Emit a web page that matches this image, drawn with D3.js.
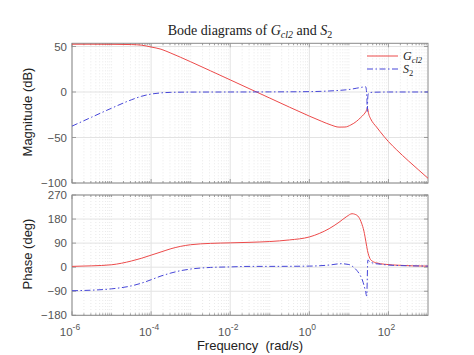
<!DOCTYPE html>
<html><head><meta charset="utf-8">
<script src="https://cdn.jsdelivr.net/npm/d3@7/dist/d3.min.js"></script>
<style>body{margin:0;background:#fff}svg{display:block}</style>
</head><body>
<svg id="c" width="474" height="355"></svg>
<script>
// ---- data (frequencies as log10(rad/s)) ----
const xTickExps = [-6, -4, -2, 0, 2];
const magTicks = [-100, -50, 0, 50];
const phaseTicks = [-180, -90, 0, 90, 180, 270];

const gMagLogF = [-6,-5.5,-5,-4.5,-4.25,-4,-3.75,-3.5,-3,-2.5,-2,-1.5,-1,-0.5,0,0.3,0.55,0.75,0.9,1.05,1.2,1.3,1.38,1.43,1.47,1.5,1.55,1.62,1.7,1.79,2,2.21,2.5,2.75,3];
const gMagDb   = [52.5,52.5,52.4,52.1,51.5,49.4,47,42.7,33.2,23.3,13.3,3.3,-6.7,-16.7,-26.5,-32,-36.3,-38.6,-38.5,-36.2,-32,-28,-24.5,-21.5,-17.9,-24,-29.5,-34.4,-38.5,-43.6,-54.5,-63.7,-75.5,-85.2,-94.8];

const sMagLogF = [-6,-5.5,-5,-4.5,-4.25,-4,-3.75,-3.5,-3,-2,-1,0,0.5,0.8,1.0,1.2,1.35,1.42,1.44,1.455,1.465,1.475,1.49,1.53,1.6,1.8,2,3];
const sMagDb   = [-37.5,-27.6,-17.8,-8.6,-4.8,-2.3,-1,-0.4,-0.1,0,0.1,0.4,1.1,1.9,2.7,4.2,5.4,5.9,3,-8,-21.5,-8,-2,-0.8,-0.3,-0.1,0,0];

const gPhLogF = [-6,-5.5,-5,-4.5,-4.25,-4,-3.75,-3.5,-3.25,-3,-2.5,-2,-1.5,-1,-0.5,0,0.25,0.5,0.75,0.95,1.08,1.15,1.25,1.32,1.38,1.43,1.47,1.53,1.6,1.7,1.9,2.3,2.6,3];
const gPhDeg  = [3,5,9,23,33,45,57,69,78,84,89,91,93,96,102,113,126,144,168,190,200,198,187,165,135,95,62,33,22,16,11,7,5,4];

const sPhLogF = [-6,-5.5,-5,-4.5,-4.25,-4,-3.75,-3.5,-3.25,-3,-2.5,-2,-1.5,-1,0,0.5,0.8,1.0,1.1,1.2,1.28,1.34,1.38,1.42,1.45,1.48,1.53,1.65,1.8,2,2.3,2.6,3];
const sPhDeg  = [-88,-86,-81,-70,-60,-47,-33,-22,-13,-7,-1,1,3,3,4,8,13,10,2,-12,-29,-48,-67,-90,-108,27,20,14,11,8,6,5,4];

// ---- layout ----
const svg = d3.select("#c");
const X0 = 72, X1 = 428;
const x = d3.scaleLog().domain([1e-6, 1e3]).range([X0, X1]);
const yMag = d3.scaleLinear().domain([-100, 53.5]).range([183, 43.3]);
const yPh = d3.scaleLinear().domain([-180, 270]).range([315.3, 195]);

const axisCol = "#8a8a8a", labCol = "#555", gridCol = "#e3e3e3";

function panel(y, yTicks, id) {
  const [yb, yt] = y.range();
  const g = svg.append("g");
  // minor vertical grid
  const minors = [];
  for (let k = -6; k < 3; k++) for (let m = 1; m <= 9; m++) {
    const v = m * Math.pow(10, k);
    if (m === 1 && xTickExps.includes(k)) continue;
    minors.push(v);
  }
  g.selectAll(".mg").data(minors).enter().append("line")
    .attr("x1", d => x(d)).attr("x2", d => x(d)).attr("y1", yt).attr("y2", yb)
    .attr("stroke", "#dadada").attr("stroke-width", 0.6).attr("stroke-dasharray", "1,2");
  // major grid
  g.selectAll(".vg").data(xTickExps.map(e => Math.pow(10, e))).enter().append("line")
    .attr("x1", d => x(d)).attr("x2", d => x(d)).attr("y1", yt).attr("y2", yb)
    .attr("stroke", gridCol).attr("stroke-width", 1);
  g.selectAll(".hg").data(yTicks).enter().append("line")
    .attr("x1", X0).attr("x2", X1).attr("y1", d => y(d)).attr("y2", d => y(d))
    .attr("stroke", gridCol).attr("stroke-width", 1);
  // ticks (inside)
  const tk = svg.append("g").attr("stroke", axisCol).attr("stroke-width", 0.8);
  minors.forEach(v => {
    tk.append("line").attr("x1", x(v)).attr("x2", x(v)).attr("y1", yb).attr("y2", yb - 2);
    tk.append("line").attr("x1", x(v)).attr("x2", x(v)).attr("y1", yt).attr("y2", yt + 2);
  });
  xTickExps.forEach(e => {
    const v = x(Math.pow(10, e));
    tk.append("line").attr("x1", v).attr("x2", v).attr("y1", yb).attr("y2", yb - 4);
    tk.append("line").attr("x1", v).attr("x2", v).attr("y1", yt).attr("y2", yt + 4);
  });
  yTicks.forEach(t => {
    tk.append("line").attr("x1", X0).attr("x2", X0 + 4).attr("y1", y(t)).attr("y2", y(t));
    tk.append("line").attr("x1", X1).attr("x2", X1 - 4).attr("y1", y(t)).attr("y2", y(t));
  });
  // box
  svg.append("rect").attr("x", X0).attr("y", yt).attr("width", X1 - X0).attr("height", yb - yt)
    .attr("fill", "none").attr("stroke", axisCol).attr("stroke-width", 1);
  // y labels
  svg.append("g").selectAll("text").data(yTicks).enter().append("text")
    .attr("x", X0 - 5).attr("y", d => y(d)).attr("dy", "0.35em").attr("text-anchor", "end")
    .attr("font-family", "Liberation Sans, Arial, sans-serif").attr("font-size", 11.5)
    .attr("fill", labCol).text(d => (d < 0 ? "\u2212" + Math.abs(d) : String(d)));
  // clip
  svg.append("clipPath").attr("id", id).append("rect")
    .attr("x", X0).attr("y", yt).attr("width", X1 - X0).attr("height", yb - yt);
}

panel(yMag, magTicks, "cm");
panel(yPh, phaseTicks, "cp");

function drawLine(lf, vals, y, clip, color, dash) {
  const pts = lf.map((f, i) => [Math.pow(10, f), vals[i]]);
  const line = d3.line().x(d => x(d[0])).y(d => y(d[1])).curve(d3.curveMonotoneX);
  svg.append("path").datum(pts).attr("d", line).attr("fill", "none")
    .attr("stroke", color).attr("stroke-width", 1)
    .attr("stroke-dasharray", dash || null).attr("clip-path", `url(#${clip})`);
}
const red = "#ec4a4a", blue = "#4646d8", dashDot = "6,2.5,1.5,2.5";
drawLine(gMagLogF, gMagDb, yMag, "cm", red);
drawLine(sMagLogF, sMagDb, yMag, "cm", blue, dashDot);
drawLine(gPhLogF, gPhDeg, yPh, "cp", red);
drawLine(sPhLogF, sPhDeg, yPh, "cp", blue, dashDot);

// x tick labels (bottom panel)
const xl = svg.append("g").attr("font-family", "Liberation Sans, Arial, sans-serif").attr("fill", labCol);
xTickExps.forEach(e => {
  const t = xl.append("text").attr("x", x(Math.pow(10, e)) - 2).attr("y", 336)
    .attr("text-anchor", "middle").attr("font-size", 11.5);
  t.append("tspan").text("10");
  t.append("tspan").attr("dy", -6).attr("font-size", 8.5).text(e < 0 ? "-" + Math.abs(e) : String(e));
});

// axis titles
const sans = "Liberation Sans, Arial, sans-serif";
svg.append("text").attr("x", 250).attr("y", 350).attr("text-anchor", "middle")
  .attr("font-family", sans).attr("font-size", 13).attr("fill", "#222")
  .style("white-space", "pre").text("Frequency  (rad/s)");
svg.append("text").attr("transform", "translate(32,112) rotate(-90)").attr("text-anchor", "middle")
  .attr("font-family", sans).attr("font-size", 13).attr("fill", "#222").text("Magnitude (dB)");
svg.append("text").attr("transform", "translate(32,254) rotate(-90)").attr("text-anchor", "middle")
  .attr("font-family", sans).attr("font-size", 13).attr("fill", "#222").text("Phase (deg)");

// title
const serif = "Liberation Serif, Times New Roman, serif";
const tt = svg.append("text").attr("x", 250).attr("y", 35).attr("text-anchor", "middle")
  .attr("font-family", serif).attr("font-size", 14).attr("fill", "#222");
tt.append("tspan").text("Bode diagrams of ");
tt.append("tspan").attr("font-style", "italic").text("G");
tt.append("tspan").attr("font-style", "italic").attr("font-size", 10).attr("dy", 3).text("cl2");
tt.append("tspan").attr("dy", -3).text(" and ");
tt.append("tspan").attr("font-style", "italic").text("S");
tt.append("tspan").attr("font-size", 10).attr("dy", 3).text("2");

// legend
const legend = [["G", "cl2", red, null, 56], ["S", "2", blue, dashDot, 69]];
legend.forEach(([b, s, c, d, yy]) => {
  svg.append("line").attr("x1", 367).attr("x2", 398).attr("y1", yy).attr("y2", yy)
    .attr("stroke", c).attr("stroke-width", 1).attr("stroke-dasharray", d);
  const t = svg.append("text").attr("x", 403).attr("y", yy + 4)
    .attr("font-family", serif).attr("font-size", 12).attr("fill", "#222");
  t.append("tspan").attr("font-style", "italic").text(b);
  t.append("tspan").attr("font-style", s === "2" ? "normal" : "italic").attr("font-size", 8.5).attr("dy", 3).text(s);
});
</script>
</body></html>
